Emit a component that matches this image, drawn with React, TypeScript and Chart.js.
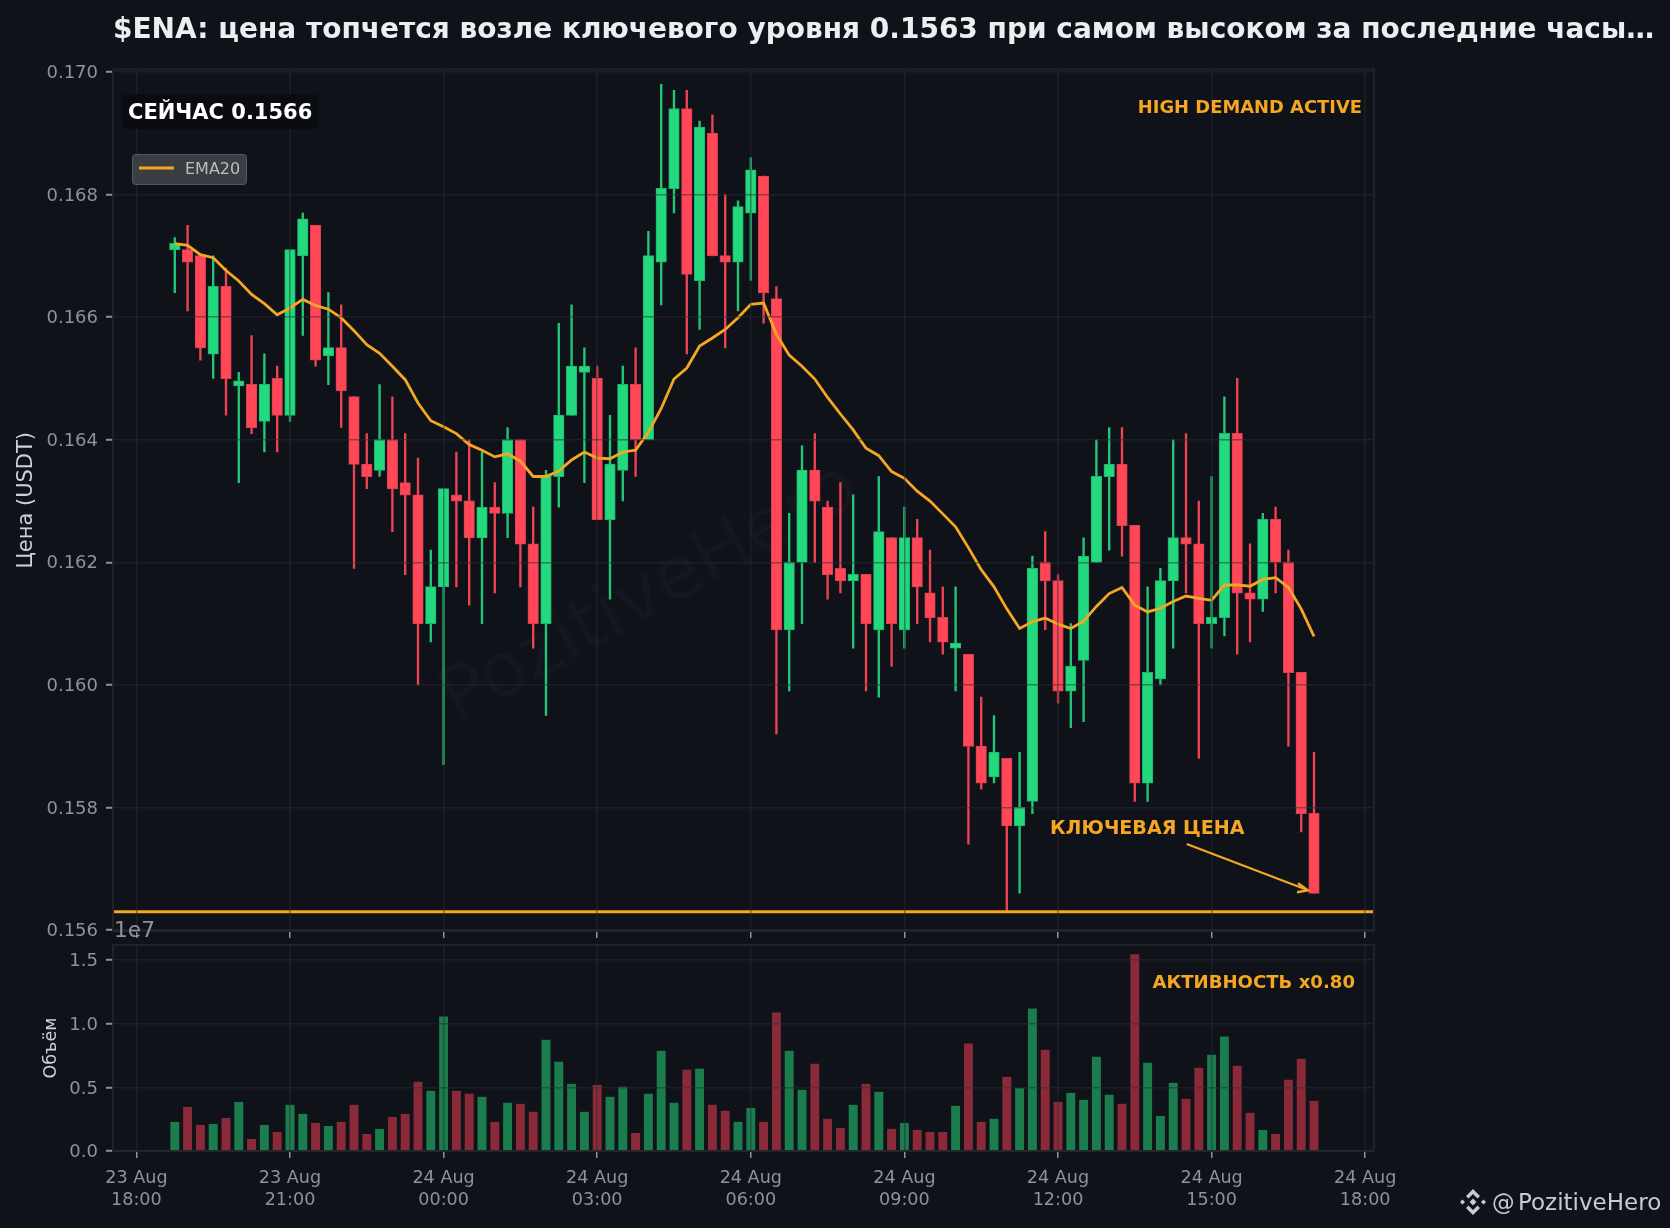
import React, { useEffect, useRef } from "react";
import { Chart, registerables } from "chart.js";

Chart.register(...registerables);

const title = "$ENA: цена топчется возле ключевого уровня 0.1563 при самом высоком за последние часы…";

const candleTimes = [
  "18:45","19:00","19:15","19:30","19:45","20:00","20:15","20:30","20:45","21:00",
  "21:15","21:30","21:45","22:00","22:15","22:30","22:45","23:00","23:15","23:30",
  "23:45","00:00","00:15","00:30","00:45","01:00","01:15","01:30","01:45","02:00",
  "02:15","02:30","02:45","03:00","03:15","03:30","03:45","04:00","04:15","04:30",
  "04:45","05:00","05:15","05:30","05:45","06:00","06:15","06:30","06:45","07:00",
  "07:15","07:30","07:45","08:00","08:15","08:30","08:45","09:00","09:15","09:30",
  "09:45","10:00","10:15","10:30","10:45","11:00","11:15","11:30","11:45","12:00",
  "12:15","12:30","12:45","13:00","13:15","13:30","13:45","14:00","14:15","14:30",
  "14:45","15:00","15:15","15:30","15:45","16:00","16:15","16:30","16:45","17:00",
];

const opens = [
  0.1671,0.1671,0.1670,0.1654,0.1665,0.16488,0.1649,0.1643,0.1650,0.1644,
  0.1670,0.1675,0.16537,0.1655,0.1647,0.1636,0.1635,0.1640,0.1633,0.1631,
  0.1610,0.1616,0.1631,0.1630,0.1624,0.1629,0.1628,0.1640,0.1623,0.1610,
  0.1634,0.1644,0.1651,0.1650,0.1627,0.1635,0.1649,0.1640,0.1669,0.1681,
  0.1694,0.1666,0.1690,0.1670,0.1669,0.1677,0.1683,0.1663,0.1609,0.1620,
  0.1635,0.1629,0.1619,0.1617,0.1618,0.1609,0.1624,0.1609,0.1624,0.1615,
  0.1611,0.1606,0.1605,0.1590,0.1585,0.1588,0.1577,0.1581,0.1620,0.1617,
  0.1599,0.1604,0.1620,0.1634,0.1636,0.1626,0.1584,0.1601,0.1617,0.1624,
  0.1623,0.1610,0.1611,0.1641,0.1615,0.1614,0.1627,0.1620,0.1602,0.1579,
];
const highs = [
  0.1673,0.1675,0.1670,0.1670,0.1668,0.1651,0.1657,0.1654,0.1652,0.1671,
  0.1677,0.1675,0.1664,0.1662,0.1647,0.1641,0.1649,0.1647,0.1641,0.1637,
  0.1622,0.1632,0.1638,0.1640,0.1638,0.1633,0.1642,0.1640,0.1629,0.1635,
  0.1659,0.1662,0.1655,0.1652,0.1644,0.1652,0.1655,0.1674,0.1698,0.1697,
  0.1697,0.1692,0.1693,0.1680,0.1679,0.1686,0.1683,0.1665,0.1628,0.1639,
  0.1641,0.1630,0.1633,0.1631,0.1618,0.1634,0.1624,0.1629,0.1627,0.1622,
  0.1616,0.1616,0.1605,0.1598,0.1595,0.1588,0.1589,0.1621,0.1625,0.1618,
  0.1610,0.1624,0.1640,0.1642,0.1642,0.1626,0.1616,0.1619,0.1640,0.1641,
  0.1630,0.1634,0.1647,0.1650,0.1623,0.1628,0.1629,0.1622,0.1602,0.1589,
];
const lows = [
  0.1664,0.1661,0.1653,0.1650,0.1644,0.1633,0.1641,0.1638,0.1638,0.1643,
  0.1657,0.1652,0.1649,0.1642,0.1619,0.1632,0.1634,0.1625,0.1618,0.1600,
  0.1607,0.1587,0.1616,0.1613,0.1610,0.1615,0.1624,0.1616,0.1606,0.1595,
  0.1629,0.1644,0.1633,0.1627,0.1614,0.1630,0.1634,0.1640,0.1662,0.1677,
  0.1654,0.1658,0.1670,0.1655,0.1661,0.1666,0.1659,0.1592,0.1599,0.1610,
  0.1620,0.1614,0.1615,0.1606,0.1599,0.1598,0.1603,0.1606,0.1610,0.1607,
  0.1605,0.1599,0.1574,0.1583,0.1584,0.1563,0.1566,0.1579,0.1609,0.1597,
  0.1593,0.1594,0.1620,0.1622,0.1621,0.1581,0.1581,0.1600,0.1606,0.1615,
  0.1588,0.1606,0.1608,0.1605,0.1607,0.1612,0.1615,0.1590,0.1576,0.1566,
];
const closes = [
  0.1672,0.1669,0.1655,0.1665,0.1650,0.16496,0.1642,0.1649,0.1644,0.1671,
  0.1676,0.1653,0.1655,0.1648,0.1636,0.1634,0.1640,0.1632,0.1631,0.1610,
  0.1616,0.1632,0.1630,0.1624,0.1629,0.1628,0.1640,0.1623,0.1610,0.1634,
  0.1644,0.1652,0.1652,0.1627,0.1636,0.1649,0.1640,0.1670,0.1681,0.1694,
  0.1667,0.1691,0.1670,0.1669,0.1678,0.1684,0.1664,0.1609,0.1620,0.1635,
  0.1630,0.1618,0.1617,0.1618,0.1610,0.1625,0.1610,0.1624,0.1616,0.1611,
  0.1607,0.16068,0.1590,0.1584,0.1589,0.1577,0.1580,0.1619,0.1617,0.1599,
  0.1603,0.1621,0.1634,0.1636,0.1626,0.1584,0.1602,0.1617,0.1624,0.1623,
  0.1610,0.1611,0.1641,0.1615,0.1614,0.1627,0.1620,0.1602,0.1579,0.1566,
];
const ema20 = [
  0.16720,0.16717,0.16702,0.16697,0.16676,0.16659,0.16637,0.16622,0.16604,0.16615,
  0.16629,0.16619,0.16613,0.16599,0.16578,0.16555,0.16541,0.16520,0.16498,0.16460,
  0.16431,0.16421,0.16410,0.16392,0.16383,0.16372,0.16377,0.16365,0.16340,0.16340,
  0.16349,0.16367,0.16380,0.16370,0.16369,0.16380,0.16383,0.16412,0.16451,0.16499,
  0.16517,0.16553,0.16566,0.16580,0.16599,0.16621,0.16623,0.16572,0.16538,0.16520,
  0.16499,0.16469,0.16442,0.16416,0.16386,0.16374,0.16348,0.16337,0.16316,0.16300,
  0.16279,0.16258,0.16224,0.16188,0.16160,0.16124,0.16092,0.16103,0.16109,0.16099,
  0.16092,0.16104,0.16128,0.16149,0.16159,0.16130,0.16119,0.16125,0.16136,0.16145,
  0.16141,0.16138,0.16163,0.16163,0.16161,0.16172,0.16175,0.16159,0.16124,0.16079,
];
const volumes1e7 = [
  0.226,0.344,0.202,0.210,0.257,0.383,0.092,0.202,0.147,0.360,
  0.289,0.218,0.194,0.226,0.360,0.131,0.171,0.265,0.289,0.541,
  0.470,1.053,0.470,0.447,0.423,0.226,0.376,0.368,0.305,0.872,
  0.699,0.525,0.305,0.517,0.423,0.502,0.139,0.447,0.785,0.376,
  0.636,0.644,0.360,0.313,0.226,0.336,0.226,1.085,0.785,0.478,
  0.683,0.250,0.179,0.360,0.525,0.462,0.171,0.218,0.163,0.147,
  0.147,0.352,0.841,0.226,0.250,0.580,0.491,1.116,0.793,0.383,
  0.454,0.399,0.738,0.439,0.368,1.542,0.691,0.273,0.533,0.407,
  0.651,0.754,0.896,0.667,0.297,0.163,0.131,0.557,0.722,0.391,
];
const keyLevel = [0.1563, 0.1563];
const xTickLabels = [
  ["23 Aug","18:00"],["23 Aug","21:00"],["24 Aug","00:00"],["24 Aug","03:00"],["24 Aug","06:00"],
  ["24 Aug","09:00"],["24 Aug","12:00"],["24 Aug","15:00"],["24 Aug","18:00"],
];

const BG = "#0f1218";
const GRID = "rgba(42,46,52,0.5)";
const SPINE = "#1e232a";
const TICK = "#8b949e";
const ORANGE = "#f5a623";
const GREEN = "#22d97d";
const RED = "#ff4757";
const FONT = "'DejaVu Sans'";

const minutes = candleTimes.map((t) => {
  const [h, m] = t.split(":").map(Number);
  const v = h * 60 + m - 1080;
  return v < 0 ? v + 1440 : v;
});
const X_MIN = -27.4;
const X_MAX = 1450.3;
const isUp = closes.map((c, i) => c >= opens[i]);

const xAxis = (showLabels: boolean, height: number) => ({
  type: "linear",
  min: X_MIN,
  max: X_MAX,
  offset: false,
  afterFit: (s: any) => {
    s.height = height;
    s.paddingLeft = 0;
    s.paddingRight = 0;
    s.paddingTop = 0;
    s.paddingBottom = 0;
  },
  grid: { offset: false, color: GRID, lineWidth: 1.5, z: 1, tickColor: TICK, tickWidth: 1.5, tickLength: 7 },
  border: { color: SPINE, width: 2, z: 1 },
  ticks: {
    display: showLabels,
    stepSize: 180,
    includeBounds: false,
    autoSkip: false,
    maxRotation: 0,
    padding: 9,
    color: TICK,
    font: { family: FONT, size: 17.6, lineHeight: 1.27 },
    callback: (v: number) => xTickLabels[Math.round(v / 180)] ?? "",
  },
});

const fitY = (s: any) => {
  s.width = 113;
  s.paddingTop = 0;
  s.paddingBottom = 0;
  s.paddingLeft = 0;
  s.paddingRight = 0;
};

const frame = {
  id: "frame",
  afterDraw(chart: any) {
    const { ctx, chartArea: a } = chart;
    ctx.save();
    ctx.strokeStyle = SPINE;
    ctx.lineWidth = 2;
    ctx.beginPath();
    ctx.moveTo(a.left, a.top);
    ctx.lineTo(a.right, a.top);
    ctx.lineTo(a.right, a.bottom);
    ctx.stroke();
    ctx.restore();
  },
};

const text = (ctx: any, s: string, x: number, y: number, font: string, color: string, align = "left") => {
  ctx.font = font;
  ctx.fillStyle = color;
  ctx.textAlign = align;
  ctx.textBaseline = "alphabetic";
  ctx.fillText(s, x, y);
};

const mainOverlay = {
  id: "mainOverlay",
  beforeDatasetsDraw(chart: any) {
    const { ctx } = chart;
    ctx.save();
    ctx.translate(660, 612);
    ctx.rotate((-29 * Math.PI) / 180);
    text(ctx, "PozitiveHero", 0, 0, `74.5px ${FONT}`, "rgba(255,255,255,0.022)", "center");
    ctx.restore();
  },
  afterDraw(chart: any) {
    const { ctx, scales } = chart;
    ctx.save();
    text(ctx, title, 113, 38, `bold 28px ${FONT}`, "#eceff2");

    ctx.fillStyle = "#0a0c10";
    ctx.beginPath();
    ctx.roundRect(122.5, 94, 195, 35, 4);
    ctx.fill();
    text(ctx, "СЕЙЧАС 0.1566", 128, 119, `bold 21px ${FONT}`, "#ffffff");

    ctx.fillStyle = "#3a3d42";
    ctx.strokeStyle = "#55585d";
    ctx.lineWidth = 1;
    ctx.beginPath();
    ctx.roundRect(132.5, 154.5, 114, 30, 3);
    ctx.fill();
    ctx.stroke();
    ctx.strokeStyle = ORANGE;
    ctx.lineWidth = 2.8;
    ctx.beginPath();
    ctx.moveTo(139, 168);
    ctx.lineTo(174, 168);
    ctx.stroke();
    text(ctx, "EMA20", 185, 174, `16px ${FONT}`, "#b9bcc0");

    text(ctx, "HIGH DEMAND ACTIVE", 1362, 113, `bold 17.9px ${FONT}`, ORANGE, "right");
    text(ctx, "КЛЮЧЕВАЯ ЦЕНА", 1050, 834, `bold 19.1px ${FONT}`, ORANGE);

    const tipX = scales.x.getPixelForValue(minutes[minutes.length - 1]) - 6;
    const tipY = scales.y.getPixelForValue(closes[closes.length - 1]) - 3;
    ctx.strokeStyle = ORANGE;
    ctx.lineWidth = 2.3;
    ctx.lineJoin = "miter";
    ctx.beginPath();
    ctx.moveTo(1186.7, 844);
    ctx.lineTo(tipX, tipY);
    ctx.moveTo(tipX - 10, tipY - 7);
    ctx.lineTo(tipX, tipY);
    ctx.lineTo(tipX - 11, tipY + 2);
    ctx.stroke();

    text(ctx, "1e7", 114, 937, `21.8px ${FONT}`, TICK);
    ctx.restore();
  },
};

const volumeOverlay = {
  id: "volumeOverlay",
  afterDraw(chart: any) {
    text(chart.ctx, "АКТИВНОСТЬ x0.80", 1355, 44, `bold 18.1px ${FONT}`, ORANGE, "right");
  },
};

export default function App() {
  const mainRef = useRef<HTMLCanvasElement>(null);
  const volRef = useRef<HTMLCanvasElement>(null);

  useEffect(() => {
    document.body.style.margin = "0";
    document.body.style.background = BG;

    const main = new Chart(mainRef.current!, {
      type: "bar",
      data: {
        datasets: [
          {
            type: "line",
            label: "Key level",
            data: [{ x: X_MIN, y: keyLevel[0] }, { x: X_MAX, y: keyLevel[1] }],
            borderColor: ORANGE,
            borderWidth: 3,
            pointRadius: 0,
            order: 0,
          },
          {
            type: "line",
            label: "EMA20",
            data: minutes.map((x, i) => ({ x, y: ema20[i] })),
            borderColor: ORANGE,
            borderWidth: 2.8,
            pointRadius: 0,
            tension: 0,
            order: 0,
          },
          {
            type: "bar",
            label: "Body",
            grouped: false,
            data: minutes.map((x, i) => ({ x, y: [opens[i], closes[i]] })),
            backgroundColor: isUp.map((u) => (u ? GREEN : RED)),
            borderColor: isUp.map((u) => (u ? "#20b56e" : "#d83f4f")),
            borderWidth: 1,
            borderSkipped: false,
            inflateAmount: 0.5,
            barThickness: 10.2,
            order: 1,
          },
          {
            type: "bar",
            label: "Wick",
            grouped: false,
            data: minutes.map((x, i) => ({ x, y: [lows[i], highs[i]] })),
            backgroundColor: isUp.map((u) => (u ? "#22c877" : "#ee4354")),
            barThickness: 1.7,
            order: 2,
          },
        ],
      },
      options: {
        responsive: false,
        animation: false,
        devicePixelRatio: 1,
        layout: { padding: { top: 69.5, right: 296, left: 0, bottom: 0 } },
        plugins: { legend: { display: false }, tooltip: { enabled: false }, title: { display: false } },
        scales: {
          x: xAxis(false, 13),
          y: {
            type: "linear",
            min: 0.155984,
            max: 0.170041,
            afterFit: fitY,
            grid: { color: GRID, lineWidth: 1.5, z: 1, tickColor: TICK, tickWidth: 2, tickLength: 7 },
            border: { color: SPINE, width: 2, z: 1 },
            title: { display: true, text: "Цена (USDT)", color: "#c9d1d9", font: { family: FONT, size: 21 }, padding: { top: 14, bottom: 0 } },
            ticks: {
              stepSize: 0.002,
              includeBounds: false,
              padding: 8,
              labelOffset: 1.5,
              color: TICK,
              font: { family: FONT, size: 18 },
              callback: (v: number) => v.toFixed(3),
            },
          },
        },
      },
      plugins: [frame, mainOverlay],
    } as any);

    const vol = new Chart(volRef.current!, {
      type: "bar",
      data: {
        datasets: [
          {
            label: "Объём",
            data: minutes.map((x, i) => ({ x, y: volumes1e7[i] })),
            backgroundColor: isUp.map((u) => (u ? "#1b7d4e" : "#8a2a38")),
            barThickness: 8.3,
          },
        ],
      },
      options: {
        responsive: false,
        animation: false,
        devicePixelRatio: 1,
        layout: { padding: { top: 1, right: 296, left: 0, bottom: 0 } },
        plugins: { legend: { display: false }, tooltip: { enabled: false }, title: { display: false } },
        scales: {
          x: xAxis(true, 77),
          y: {
            type: "linear",
            min: 0,
            max: 1.618,
            afterFit: fitY,
            grid: { color: GRID, lineWidth: 1.5, z: 1, tickColor: TICK, tickWidth: 2, tickLength: 7 },
            border: { color: SPINE, width: 2, z: 1 },
            title: { display: true, text: "Объём", color: "#c9d1d9", font: { family: FONT, size: 17.5 }, padding: { top: 41, bottom: 0 } },
            ticks: {
              stepSize: 0.5,
              includeBounds: false,
              padding: 8,
              labelOffset: 1.5,
              color: TICK,
              font: { family: FONT, size: 18 },
              callback: (v: number) => v.toFixed(1),
            },
          },
        },
      },
      plugins: [frame, volumeOverlay],
    } as any);

    return () => {
      main.destroy();
      vol.destroy();
    };
  }, []);

  return (
    <div style={{ position: "absolute", left: 0, top: 0, width: 1670, height: 1228, background: BG, overflow: "hidden" }}>
      <canvas ref={volRef} width={1670} height={284} style={{ position: "absolute", left: 0, top: 944, width: 1670, height: 284 }} />
      <canvas ref={mainRef} width={1670} height={944} style={{ position: "absolute", left: 0, top: 0, width: 1670, height: 944 }} />
      <svg width={28} height={28} viewBox="0 0 28 28" style={{ position: "absolute", left: 1459, top: 1188 }}>
        <g fill="#c8cbd0">
          <polygon points="14,10.5 17.5,14 14,17.5 10.5,14" />
          <polygon points="3.5,11.5 6,14 3.5,16.5 1,14" />
          <polygon points="24.5,11.5 27,14 24.5,16.5 22,14" />
          <polygon points="14,1 21,8 18.5,10.5 14,6 9.5,10.5 7,8" />
          <polygon points="14,27 21,20 18.5,17.5 14,22 9.5,17.5 7,20" />
        </g>
      </svg>
      <div style={{ position: "absolute", left: 1492, top: 1186, fontFamily: FONT, fontSize: 22.6, lineHeight: "32px", color: "#c8cbd0", whiteSpace: "nowrap" }}>@</div>
      <div style={{ position: "absolute", left: 1518, top: 1186, fontFamily: FONT, fontSize: 23, lineHeight: "32px", color: "#c8cbd0", whiteSpace: "nowrap" }}>PozitiveHero</div>
    </div>
  );
}
